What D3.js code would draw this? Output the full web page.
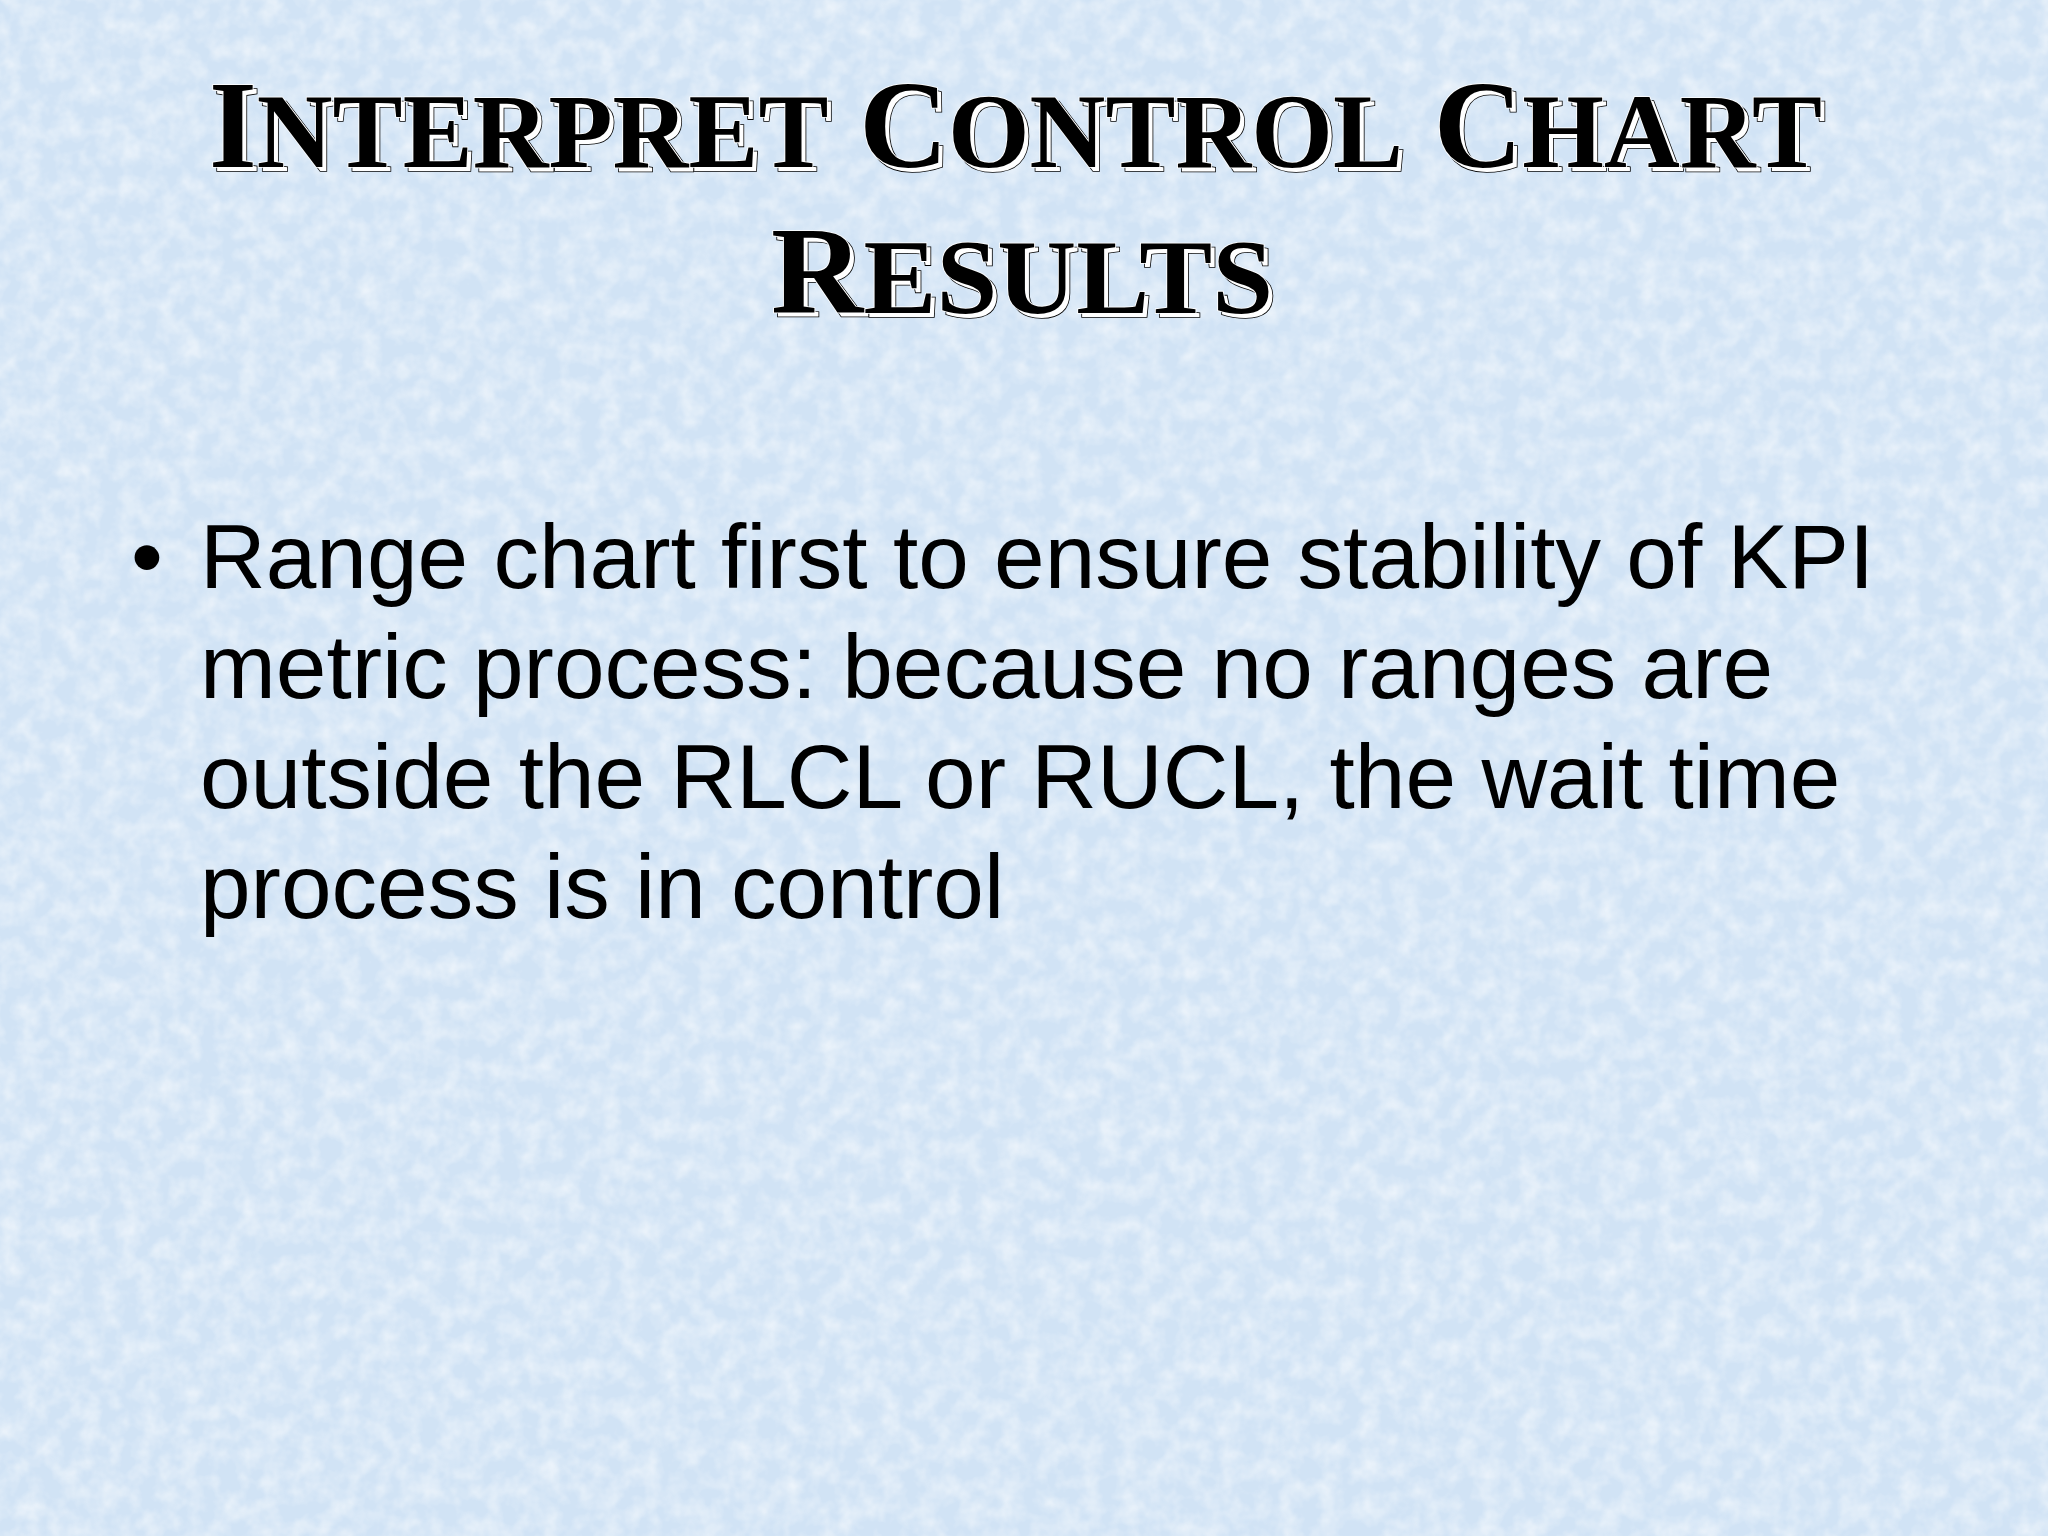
<!DOCTYPE html>
<html lang="en">
<head>
<meta charset="utf-8">
<title>Interpret Control Chart Results</title>
<script src="https://d3js.org/d3.v7.min.js"></script>
<style>
  body { margin: 0; background: #d5e6f6; }
  .title_styling { font-family: "Liberation Serif", serif; font-weight: 700; }
  .body_styling { font-family: "Liberation Sans", Arial, sans-serif; }
</style>
</head>
<body>
<div id="slide"></div>
<script>
// slide text
const titleLines = ["Interpret Control Chart", "Results"];
const bulletLines = [
  "Range chart first to ensure stability of KPI",
  "metric process: because no ranges are",
  "outside the RLCL or RUCL, the wait time",
  "process is in control"
];

const width = 2048;
const height = 1536;

const svg = d3.select("#slide")
  .append("svg")
  .attr("width", width)
  .attr("height", height);

// texture for the paper background
const defs = svg.append("defs");
const f = defs.append("filter").attr("id", "paper")
  .attr("x", 0).attr("y", 0).attr("width", "100%").attr("height", "100%");
f.append("feTurbulence").attr("type", "fractalNoise")
  .attr("baseFrequency", 0.05).attr("numOctaves", 3).attr("seed", 7).attr("result", "n");
f.append("feColorMatrix").attr("in", "n").attr("type", "matrix")
  .attr("values", "0 0 0 0 1  0 0 0 0 1  0 0 0 0 1  0 0 0 1.6 -0.55");

svg.append("rect").attr("width", width).attr("height", height).attr("fill", "#d1e3f5");
svg.append("rect").attr("width", width).attr("height", height)
  .attr("filter", "url(#paper)").attr("opacity", 0.6);

// title lines: big first letter of each word, the rest as tall small caps
const titleY = d3.scaleLinear().domain([0, 1]).range([167, 313]);
const titleSpan = [[209, 1822], [771, 1273]];
const bigSize = 124;
const smallSize = 106;

function addTitleText(g, t, i, dx, dy, fill, stroke) {
  const s = titleSpan[i];
  const txt = g.append("text")
    .attr("x", s[0] + dx).attr("y", titleY(i) + dy)
    .attr("textLength", s[1] - s[0]).attr("lengthAdjust", "spacingAndGlyphs")
    .attr("fill", fill).attr("stroke", stroke).attr("stroke-width", 1.6)
    .attr("paint-order", "stroke");
  t.split(" ").forEach(function (w, k) {
    txt.append("tspan").attr("font-size", bigSize)
      .text((k > 0 ? " " : "") + w[0].toUpperCase());
    txt.append("tspan").attr("font-size", smallSize)
      .text(w.slice(1).toUpperCase());
  });
}

const title = svg.append("g").attr("class", "title_styling");
titleLines.forEach(function (t, i) {
  addTitleText(title, t, i, 4, 4, "white", "black");
  addTitleText(title, t, i, 0, 0, "black", "white");
});

// bullet text
const lineY = d3.scaleLinear().domain([0, bulletLines.length - 1]).range([588, 918]);
const bodySize = 91;

const body = svg.append("g").attr("class", "body_styling");
body.append("text")
  .attr("x", 131).attr("y", lineY(0))
  .attr("font-size", bodySize)
  .text("\u2022");

body.selectAll("text.line")
  .data(bulletLines)
  .enter()
  .append("text")
  .attr("class", "line")
  .attr("x", 200)
  .attr("y", (d, i) => lineY(i))
  .attr("font-size", bodySize)
  .attr("fill", "black")
  .text(d => d);
</script>
</body>
</html>
